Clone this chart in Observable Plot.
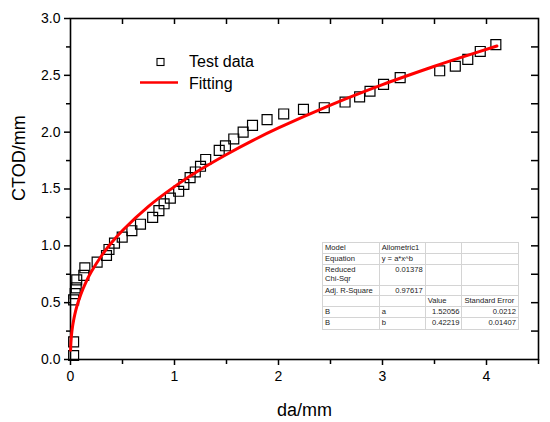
<!DOCTYPE html>
<html>
<head>
<meta charset="utf-8">
<script src="https://cdn.jsdelivr.net/npm/d3@7"></script>
<script src="https://cdn.jsdelivr.net/npm/@observablehq/plot@0.6"></script>
<style>
  html, body { margin: 0; padding: 0; background: #fff; }
  #wrap { position: relative; width: 550px; height: 422px; font-family: "Liberation Sans", Arial, sans-serif; }
  #legend { position: absolute; left: 0; top: 0; pointer-events: none; }
  #stats { position: absolute; left: 322px; top: 242px; border-collapse: collapse; border: 1px solid #9a9a9a;
           background: #fff; font-size: 7.6px; color: #222; table-layout: fixed; }
  #stats td { border: 1px solid #d4d4d4; padding: 0 2px; line-height: 9px; vertical-align: top; white-space: nowrap; overflow: hidden; }
  #stats td.r { text-align: right; }
</style>
</head>
<body>
<div id="wrap"></div>
<script>
// Test data
const daTest = [0.03,0.03,0.03,0.045,0.055,0.06,0.128,0.138,0.256,0.346,0.37,0.423,0.497,0.59,0.673,0.79,0.85,0.90,0.96,1.04,1.09,1.15,1.20,1.25,1.30,1.43,1.49,1.57,1.66,1.75,1.89,2.05,2.24,2.44,2.64,2.78,2.88,3.01,3.17,3.55,3.70,3.82,3.94,4.09];
const ctodTest = [0.035,0.155,0.525,0.58,0.63,0.70,0.74,0.807,0.857,0.915,0.968,1.024,1.077,1.133,1.19,1.25,1.31,1.37,1.42,1.48,1.54,1.60,1.65,1.70,1.76,1.84,1.88,1.94,2.00,2.06,2.11,2.16,2.20,2.215,2.265,2.31,2.36,2.42,2.48,2.54,2.58,2.64,2.71,2.77];
// Fitting curve
const daFit = [0.001,0.003,0.005,0.01,0.02,0.03,0.04,0.06,0.1,0.15,0.2,0.3,0.4,0.5,0.75,1,1.25,1.5,1.75,2,2.5,3,3.5,3.75,4.1];
const ctodFit = [0.082,0.131,0.162,0.218,0.292,0.346,0.391,0.464,0.575,0.683,0.771,0.915,1.033,1.135,1.347,1.521,1.671,1.804,1.926,2.037,2.238,2.418,2.580,2.656,2.758];
// Ticks
const xMajor = [0,1,2,3,4];
const xMinor = [0.5,1.5,2.5,3.5,4.5];
const xTop = [0.5,1,1.5,2,2.5,3,3.5,4];
const yMajor = [0,0.5,1,1.5,2,2.5,3];
const yMinor = [0.25,0.75,1.25,1.75,2.25,2.75];
const yRight = [0.25,0.5,0.75,1,1.25,1.5,1.75,2,2.25,2.5,2.75];
// Legend and stats table texts
const legendLabels = ["Test data", "Fitting"];
const statsRows = [
  ["Model", "Allometric1", "", ""],
  ["Equation", "y = a*x^b", "", ""],
  ["Reduced<br>Chi-Sqr", "0.01378", "", ""],
  ["Adj. R-Square", "0.97617", "", ""],
  ["", "", "Value", "Standard Error"],
  ["B", "a", "1.52056", "0.0212"],
  ["B", "b", "0.42219", "0.01407"]
];

const testData = daTest.map((x, i) => ({x, y: ctodTest[i]}));
const fitData = daFit.map((x, i) => ({x, y: ctodFit[i]}));

const W = 550, H = 422, mL = 70, mR = 12, mT = 18, mB = 63;
const fw = W - mL - mR, fh = H - mT - mB;
const font = "Liberation Sans, Arial, sans-serif";
const tk = {stroke: "#000", strokeWidth: 1.5};
const chart = Plot.plot({
  width: W,
  height: H,
  marginLeft: mL,
  marginRight: mR,
  marginTop: mT,
  marginBottom: mB,
  style: {fontFamily: font, background: "#fff", color: "#000"},
  x: {domain: [0, 4.5]},
  y: {domain: [0, 3]},
  marks: [
    Plot.axisX({ticks: xMajor, tickSize: 0, tickPadding: 12, fontSize: 14, tickFormat: d => String(d), label: null}),
    Plot.axisY({ticks: yMajor, tickSize: 0, tickPadding: 10, fontSize: 14, tickFormat: d3.format(".1f"), label: null}),
    // bottom ticks (outward)
    Plot.tickX(xMajor, {x: d => d, insetTop: fh, insetBottom: -6, ...tk}),
    Plot.tickX(xMinor, {x: d => d, insetTop: fh, insetBottom: -5, ...tk}),
    // top ticks (inward)
    Plot.tickX(xTop, {x: d => d, insetBottom: fh - 6, ...tk}),
    // left ticks (outward)
    Plot.tickY(yMajor, {y: d => d, insetRight: fw, insetLeft: -6, ...tk}),
    Plot.tickY(yMinor, {y: d => d, insetRight: fw, insetLeft: -4, ...tk}),
    // right ticks (inward)
    Plot.tickY(yRight, {y: d => d, insetLeft: fw - 7, ...tk}),
    Plot.frame({stroke: "#000", strokeWidth: 1.6}),
    Plot.dot(testData, {x: "x", y: "y", symbol: "square", r: 5.6, stroke: "#000", strokeWidth: 1.2, fill: "none"}),
    Plot.line(fitData, {x: "x", y: "y", stroke: "#ff0000", strokeWidth: 3, curve: "catmull-rom"}),
    Plot.text(["da/mm"], {frameAnchor: "bottom", lineAnchor: "bottom", dy: 56, fontSize: 18, fill: "#000"}),
    Plot.text(["CTOD/mm"], {frameAnchor: "left", rotate: -90, dx: -51, dy: 12, fontSize: 18, fill: "#000"})
  ]
});
const wrap = document.getElementById("wrap");
wrap.appendChild(chart);

// Legend overlay
const ns = "http://www.w3.org/2000/svg";
const lg = document.createElementNS(ns, "svg");
lg.setAttribute("id", "legend");
lg.setAttribute("width", W);
lg.setAttribute("height", H);
lg.innerHTML = `
  <rect x="157" y="58.5" width="7" height="7" fill="none" stroke="#000" stroke-width="1.1"/>
  <text x="189" y="67" font-size="16" font-family="${font}" fill="#000">${legendLabels[0]}</text>
  <line x1="140" y1="82.5" x2="178" y2="82.5" stroke="#ff0000" stroke-width="2.6"/>
  <text x="189" y="88.5" font-size="16" font-family="${font}" fill="#000">${legendLabels[1]}</text>`;
wrap.appendChild(lg);

// Stats table overlay
const colW = [56.7, 46, 36.7, 56.6];
const rowH = [10.6, 11, 21, 10, 11.4, 11, 11.6];
const tbl = document.createElement("table");
tbl.id = "stats";
const cg = document.createElement("colgroup");
colW.forEach(w => { const c = document.createElement("col"); c.style.width = w + "px"; cg.appendChild(c); });
tbl.appendChild(cg);
statsRows.forEach((row, ri) => {
  const tr = document.createElement("tr");
  tr.style.height = rowH[ri] + "px";
  row.forEach(cell => {
    const td = document.createElement("td");
    td.innerHTML = cell;
    if (/^[0-9.]+$/.test(cell)) td.className = "r";
    tr.appendChild(td);
  });
  tbl.appendChild(tr);
});
wrap.appendChild(tbl);
</script>
</body>
</html>
